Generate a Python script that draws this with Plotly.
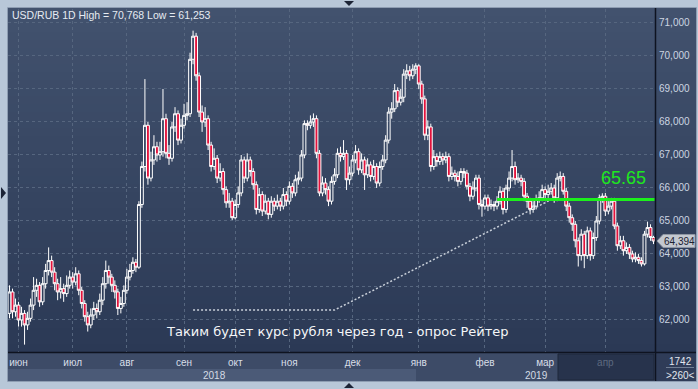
import plotly.graph_objects as go

# ---------------- data ----------------
months = ["июн", "июл", "авг", "сен", "окт", "ноя", "дек", "янв", "фев", "мар", "апр"]
month_start_bar = [3, 21, 39, 58, 75, 93, 114, 136, 158, 178, 198]
year_labels = ["2018", "2019"]
y_ticks = [62, 63, 64, 65, 66, 67, 68, 69, 70, 71]

closes = [
    62.85, 62.25, 62.45, 62.00, 62.20, 61.85, 62.05, 62.45, 62.90, 63.05,
    62.55, 63.10, 63.50, 63.80, 63.45, 63.10, 62.85, 62.95, 62.80, 63.05,
    63.30, 63.15, 63.40, 62.90, 62.50, 62.10, 61.85, 62.15, 62.35, 62.25,
    62.60, 63.10, 63.50, 63.30, 63.05, 62.85, 62.35, 62.50, 62.90, 63.30,
    63.50, 63.75, 63.60, 65.50, 66.65, 67.90, 66.30, 66.85, 67.25, 67.00,
    67.10, 68.10, 67.05, 66.90, 67.85, 68.25, 67.45, 67.90, 68.20, 68.25,
    69.90, 70.60, 69.40, 68.30, 68.00, 68.10, 67.30, 66.65, 66.90, 66.30,
    66.50, 65.95, 65.55, 65.60, 65.10, 65.50, 65.85, 66.85, 66.30, 66.85,
    66.50, 66.10, 65.35, 65.80, 65.30, 65.60, 65.20, 65.60, 65.45, 65.60,
    65.45, 65.80, 65.60, 66.05, 65.85, 66.25, 66.30, 67.00, 67.95, 67.90,
    68.00, 68.10, 67.05, 65.85, 66.15, 65.95, 65.60, 66.20, 66.40, 67.05,
    66.95, 67.05, 66.25, 66.45, 66.85, 67.10, 66.55, 66.85, 66.40, 66.70,
    66.35, 66.65, 66.15, 66.65, 66.85, 67.45, 68.30, 68.40, 68.95, 68.60,
    68.75, 69.45, 69.55, 69.40, 69.60, 69.70, 69.15, 68.70, 67.60, 67.85,
    66.65, 66.95, 66.80, 66.95, 66.85, 66.95, 66.35, 66.45, 66.35, 66.20,
    66.50, 66.45, 66.05, 65.75, 66.00, 66.30, 65.50, 65.45, 65.70, 65.45,
    65.50, 65.45, 65.60, 65.90, 65.35, 66.00, 66.30, 66.65, 66.25, 66.30,
    66.20, 65.75, 65.60, 65.35, 65.45, 65.65, 65.70, 65.95, 65.80, 65.90,
    66.00, 65.70, 66.30, 66.35, 65.90, 65.45, 65.10, 64.90, 64.40, 63.95,
    64.60, 63.95, 64.70, 63.95, 64.50, 65.00, 65.70, 65.75, 65.30, 65.45,
    65.60, 64.85, 64.25, 64.40, 64.10, 64.20, 64.00, 63.85, 63.90, 63.80,
    63.70, 64.60, 64.80, 64.50, 64.394,
]
opens = [
    62.20, 62.85, 62.25, 62.45, 62.00, 62.20, 61.85, 62.05, 62.45, 62.90,
    63.05, 62.55, 63.10, 63.50, 63.80, 63.45, 63.10, 62.85, 62.95, 62.80,
    63.05, 63.30, 63.15, 63.40, 62.90, 62.50, 62.10, 61.85, 62.15, 62.35,
    62.25, 62.60, 63.10, 63.50, 63.30, 63.05, 62.85, 62.35, 62.50, 62.90,
    63.30, 63.50, 63.75, 63.60, 65.50, 66.65, 67.90, 66.30, 66.85, 67.25,
    67.00, 67.10, 68.10, 67.05, 66.90, 67.85, 68.25, 67.45, 67.90, 68.20,
    68.25, 69.90, 70.60, 69.40, 68.30, 68.00, 68.10, 67.30, 66.65, 66.90,
    66.30, 66.50, 65.95, 65.55, 65.60, 65.10, 65.50, 65.85, 66.85, 66.30,
    66.85, 66.50, 66.10, 65.35, 65.80, 65.30, 65.60, 65.20, 65.60, 65.45,
    65.60, 65.45, 65.80, 65.60, 66.05, 65.85, 66.25, 66.30, 67.00, 67.95,
    67.90, 68.00, 68.10, 67.05, 65.85, 66.15, 65.95, 65.60, 66.20, 66.40,
    67.05, 66.95, 67.05, 66.25, 66.45, 66.85, 67.10, 66.55, 66.85, 66.40,
    66.70, 66.35, 66.65, 66.15, 66.65, 66.85, 67.45, 68.30, 68.40, 68.95,
    68.60, 68.75, 69.45, 69.55, 69.40, 69.60, 69.70, 69.15, 68.70, 67.60,
    67.85, 66.65, 66.95, 66.80, 66.95, 66.85, 66.95, 66.35, 66.45, 66.35,
    66.20, 66.50, 66.45, 66.05, 65.75, 66.00, 66.30, 65.50, 65.45, 65.70,
    65.45, 65.50, 65.45, 65.60, 65.90, 65.35, 66.00, 66.30, 66.65, 66.25,
    66.30, 66.20, 65.75, 65.60, 65.35, 65.45, 65.65, 65.70, 65.95, 65.80,
    65.90, 66.00, 65.70, 66.30, 66.35, 65.90, 65.45, 65.10, 64.90, 64.40,
    63.95, 64.60, 63.95, 64.70, 63.95, 64.50, 65.00, 65.70, 65.75, 65.30,
    65.45, 65.60, 64.85, 64.25, 64.40, 64.10, 64.20, 64.00, 63.85, 63.90,
    63.80, 63.70, 64.60, 64.80, 64.50,
]
highs = [
    63.05, 62.95, 62.65, 62.55, 62.40, 62.30, 62.25, 62.65, 63.30, 63.25,
    63.15, 63.30, 63.70, 64.20, 63.95, 63.60, 63.25, 63.30, 63.10, 63.35,
    63.50, 63.45, 63.60, 63.50, 63.00, 62.60, 62.25, 62.35, 62.55, 62.50,
    62.80, 63.30, 63.80, 63.65, 63.40, 63.20, 62.95, 62.70, 63.05, 63.55,
    63.70, 63.90, 63.85, 65.60, 66.80, 69.30, 68.00, 67.10, 67.60, 67.40,
    67.40, 69.00, 68.25, 67.30, 68.00, 68.45, 68.35, 68.10, 68.55, 68.60,
    70.10, 70.768, 70.70, 69.50, 68.50, 68.45, 68.20, 67.40, 67.20, 67.00,
    66.75, 66.60, 66.05, 65.85, 65.70, 65.65, 66.05, 67.00, 66.95, 67.05,
    66.95, 66.60, 66.20, 66.00, 65.90, 65.80, 65.70, 65.75, 65.70, 65.80,
    65.70, 66.00, 65.90, 66.20, 66.15, 66.40, 66.50, 67.15, 68.05, 68.05,
    68.20, 68.26, 68.20, 67.15, 66.35, 66.30, 66.05, 66.35, 66.60, 67.20,
    67.25, 67.45, 67.15, 66.65, 67.00, 67.30, 67.20, 67.05, 66.95, 66.90,
    66.80, 66.85, 66.75, 66.80, 67.00, 67.60, 68.45, 68.60, 69.15, 69.05,
    69.00, 69.60, 69.75, 69.70, 69.75, 69.78, 69.75, 69.25, 68.80, 68.05,
    67.95, 67.15, 67.05, 67.10, 67.05, 67.10, 67.05, 66.65, 66.55, 66.50,
    66.60, 66.60, 66.55, 66.15, 66.20, 66.40, 66.40, 65.65, 65.80, 65.80,
    65.65, 65.60, 65.75, 66.05, 66.00, 66.10, 66.50, 67.15, 66.80, 66.45,
    66.40, 66.30, 65.85, 65.70, 65.60, 65.80, 65.90, 66.10, 66.05, 66.10,
    66.15, 66.10, 66.45, 66.50, 66.45, 66.00, 65.55, 65.20, 65.00, 64.50,
    64.75, 64.70, 64.83, 64.80, 64.65, 65.15, 65.80, 65.84, 65.85, 65.60,
    65.70, 65.70, 64.95, 64.55, 64.55, 64.35, 64.30, 64.10, 64.05, 64.00,
    63.90, 64.70, 64.98, 64.90, 64.55,
]
lows = [
    62.05, 62.05, 62.10, 61.80, 61.80, 61.253, 61.70, 61.95, 62.30, 62.70,
    62.40, 62.45, 62.95, 63.35, 63.30, 62.90, 62.60, 62.65, 62.55, 62.70,
    62.95, 62.95, 63.05, 62.75, 62.35, 61.95, 61.65, 61.75, 62.00, 62.05,
    62.15, 62.45, 62.95, 63.10, 62.85, 62.65, 62.15, 62.20, 62.40, 62.80,
    63.20, 63.40, 63.45, 63.55, 65.40, 66.50, 66.10, 66.20, 66.70, 66.80,
    66.85, 66.95, 66.90, 66.70, 66.80, 67.70, 67.30, 67.35, 67.80, 68.05,
    68.15, 69.75, 69.25, 68.15, 67.70, 67.85, 67.15, 66.50, 66.55, 66.15,
    66.20, 65.80, 65.40, 65.40, 65.03, 65.05, 65.40, 65.75, 66.15, 66.20,
    66.35, 65.95, 65.20, 65.25, 65.15, 65.20, 65.05, 65.10, 65.30, 65.35,
    65.30, 65.35, 65.45, 65.50, 65.70, 65.75, 66.10, 66.20, 66.90, 67.75,
    67.80, 67.85, 66.90, 65.75, 65.75, 65.80, 65.45, 65.50, 66.10, 66.30,
    66.80, 66.85, 65.94, 66.10, 66.35, 66.75, 66.40, 66.45, 65.94, 66.30,
    66.20, 66.25, 66.00, 66.05, 66.55, 66.75, 67.35, 68.10, 68.30, 68.45,
    68.50, 68.60, 69.30, 69.25, 69.30, 69.45, 69.00, 68.55, 67.45, 67.45,
    66.50, 66.55, 66.65, 66.70, 66.70, 66.75, 66.20, 66.25, 66.20, 66.05,
    66.10, 66.30, 65.95, 65.60, 65.65, 65.90, 65.35, 65.13, 65.35, 65.30,
    65.35, 65.30, 65.35, 65.50, 65.20, 65.25, 65.90, 66.20, 66.10, 66.15,
    66.05, 65.60, 65.40, 65.20, 65.25, 65.35, 65.55, 65.60, 65.65, 65.70,
    65.80, 65.55, 65.60, 66.20, 65.80, 65.30, 64.95, 64.70, 64.20, 63.62,
    63.80, 63.57, 63.85, 63.80, 63.85, 64.40, 64.90, 65.55, 65.15, 65.20,
    65.35, 64.75, 64.10, 64.15, 63.95, 64.00, 63.85, 63.75, 63.75, 63.70,
    63.62, 63.65, 64.50, 64.40, 64.30,
]

level_value = 65.65
level_start_bar = 162
forecast_x = [61, 108, 180]
forecast_y = [62.30, 62.30, 65.65]

bars = list(range(len(closes)))

# ---------------- geometry helpers (pixel -> paper) ----------------
L, R, T, B = 8, 655, 9, 352
PW, PH = R - L, B - T


def px(x):
    return (x - L) / PW


def py(y):
    return (B - y) / PH


def lerp_color(c1, c2, t):
    return "rgb(%d,%d,%d)" % tuple(round(a + (b - a) * t) for a, b in zip(c1, c2))


fig = go.Figure()

fig.add_trace(go.Candlestick(
    x=bars, open=opens, high=highs, low=lows, close=closes,
    increasing=dict(line=dict(color="#ffffff", width=1), fillcolor="rgba(0,0,0,0)"),
    decreasing=dict(line=dict(color="#ffffff", width=1), fillcolor="#e3123c"),
    whiskerwidth=0, hoverinfo="skip", showlegend=False,
))

fig.add_trace(go.Scatter(
    x=forecast_x, y=forecast_y, mode="lines",
    line=dict(color="#c9d0da", width=1.5, dash="2px,2px"),
    hoverinfo="skip", showlegend=False,
))

fig.add_trace(go.Scatter(
    x=[level_start_bar, bars[-1] + 0.4], y=[level_value, level_value], mode="lines",
    line=dict(color="#1cf01c", width=3),
    hoverinfo="skip", showlegend=False,
))

shapes = []
# gradient background (plot + right axis column)
top_c, bot_c = (66, 82, 110), (43, 57, 85)
nb = 43
for k in range(nb):
    y0 = 8 + k * (B - 8) / nb
    y1 = 8 + (k + 1) * (B - 8) / nb + 0.6
    shapes.append(dict(type="rect", xref="paper", yref="paper", layer="below",
                       x0=px(8), x1=px(696), y0=py(y0), y1=py(y1),
                       fillcolor=lerp_color(top_c, bot_c, (k + 0.5) / nb), line=dict(width=0)))
# date band rows
shapes.append(dict(type="rect", xref="paper", yref="paper", layer="below",
                   x0=px(8), x1=px(655), y0=py(352), y1=py(381),
                   fillcolor="#3d4b67", line=dict(width=0)))
shapes.append(dict(type="rect", xref="paper", yref="paper", layer="below",
                   x0=px(8), x1=px(416), y0=py(369), y1=py(381),
                   fillcolor="#4b5a77", line=dict(width=0)))
shapes.append(dict(type="rect", xref="paper", yref="paper", layer="below",
                   x0=px(558), x1=px(654), y0=py(354), y1=py(380),
                   fillcolor="#27334c", line=dict(color="#1e283b", width=1)))
shapes.append(dict(type="rect", xref="paper", yref="paper", layer="below",
                   x0=px(655), x1=px(696), y0=py(352), y1=py(381),
                   fillcolor="#2f3c58", line=dict(width=0)))
# separators
shapes.append(dict(type="line", xref="paper", yref="paper",
                   x0=px(8), x1=px(696), y0=py(352.5), y1=py(352.5),
                   line=dict(color="#0e1320", width=1.5)))
shapes.append(dict(type="line", xref="paper", yref="paper",
                   x0=px(655.5), x1=px(655.5), y0=py(8), y1=py(381),
                   line=dict(color="#0e1320", width=1.5)))
shapes.append(dict(type="line", xref="paper", yref="paper",
                   x0=px(666), x1=px(694), y0=py(367.5), y1=py(367.5),
                   line=dict(color="#6f7d93", width=1)))
# outer frame edge
shapes.append(dict(type="rect", xref="paper", yref="paper",
                   x0=px(7.5), x1=px(696.5), y0=py(7.5), y1=py(381.5),
                   line=dict(color="#8e9db2", width=1)))
# small UI triangles
shapes.append(dict(type="path", xref="paper", yref="paper",
                   path="M %f %f L %f %f L %f %f Z" % (px(1), py(187), px(6), py(193), px(1), py(199)),
                   fillcolor="#1c2436", line=dict(width=0)))
shapes.append(dict(type="path", xref="paper", yref="paper",
                   path="M %f %f L %f %f L %f %f Z" % (px(344), py(1), px(354), py(1), px(349), py(6)),
                   fillcolor="#1c2436", line=dict(width=0)))
shapes.append(dict(type="path", xref="paper", yref="paper",
                   path="M %f %f L %f %f L %f %f Z" % (px(344), py(388), px(354), py(388), px(349), py(383)),
                   fillcolor="#1c2436", line=dict(width=0)))
# last price tag
shapes.append(dict(type="path", xref="paper", yref="paper",
                   path="M %f %f L %f %f L %f %f L %f %f L %f %f Z" % (
                       px(657), py(241), px(663), py(234.5), px(695), py(234.5),
                       px(695), py(247.5), px(663), py(247.5)),
                   fillcolor="#c3c8d0", line=dict(color="#8f96a3", width=1)))

annotations = [
    dict(text="USD/RUB 1D High = 70,768 Low = 61,253", xref="paper", yref="paper",
         x=px(10), y=py(15.5), xanchor="left", yanchor="middle", showarrow=False,
         font=dict(family="Liberation Sans", size=10.5, color="#e6ebf2")),
    dict(text="Таким будет курс рубля через год - опрос Рейтер", xref="paper", yref="paper",
         x=px(338), y=py(331), xanchor="center", yanchor="middle", showarrow=False,
         font=dict(family="DejaVu Sans", size=13, color="#f4f6f8")),
    dict(text="65.65", xref="x", yref="y", x=204, y=level_value + 0.3,
         xanchor="center", yanchor="bottom", showarrow=False,
         font=dict(family="Liberation Sans", size=18, color="#1ee81e")),
    dict(text="64,394", xref="paper", yref="paper", x=px(679), y=py(241.5),
         xanchor="center", yanchor="middle", showarrow=False,
         font=dict(family="Liberation Sans", size=10, color="#1b2130")),
    dict(text=year_labels[0], xref="paper", yref="paper", x=px(214), y=py(375),
         xanchor="center", yanchor="middle", showarrow=False,
         font=dict(family="Liberation Sans", size=10, color="#d4dbe5")),
    dict(text=year_labels[1], xref="paper", yref="paper", x=px(536), y=py(375),
         xanchor="center", yanchor="middle", showarrow=False,
         font=dict(family="Liberation Sans", size=10, color="#d4dbe5")),
    dict(text="1742", xref="paper", yref="paper", x=px(680), y=py(361),
         xanchor="center", yanchor="middle", showarrow=False,
         font=dict(family="Liberation Sans", size=10, color="#e2e7ee")),
    dict(text="&gt;260&lt;", xref="paper", yref="paper", x=px(680), y=py(375),
         xanchor="center", yanchor="middle", showarrow=False,
         font=dict(family="Liberation Sans", size=10, color="#e2e7ee")),
]

tick_text = [m if m != "апр" else "<span style='color:#5d6a80'>%s</span>" % m for m in months]

fig.update_layout(
    width=698, height=389, autosize=False,
    margin=dict(l=L, r=698 - R, t=T, b=389 - B, pad=0),
    paper_bgcolor="#b8c7d8", plot_bgcolor="rgba(0,0,0,0)",
    boxgap=0.05, boxgroupgap=0,
    shapes=shapes, annotations=annotations, showlegend=False,
    xaxis=dict(range=[-0.5, len(closes) - 0.5], tickvals=month_start_bar, ticktext=tick_text,
               showgrid=True, gridcolor="#56667f", griddash="3px,3px", gridwidth=1,
               zeroline=False, ticks="", showline=False, rangeslider=dict(visible=False),
               tickfont=dict(family="Liberation Sans", size=10, color="#d8dee8"),
               ticklabelstandoff=3, fixedrange=True),
    yaxis=dict(range=[61.03, 71.424], side="right", tickvals=y_ticks,
               ticktext=["%d,000" % v for v in y_ticks],
               showgrid=True, gridcolor="#56667f", griddash="3px,3px", gridwidth=1,
               zeroline=False, ticks="", showline=False,
               tickfont=dict(family="Liberation Sans", size=10, color="#ccd5e1"),
               ticklabelstandoff=3, fixedrange=True),
)

fig.write_html(
    "out.html",
    config={"displayModeBar": False, "staticPlot": True},
    post_script="document.body.style.margin='0';document.body.style.overflow='hidden';",
)
